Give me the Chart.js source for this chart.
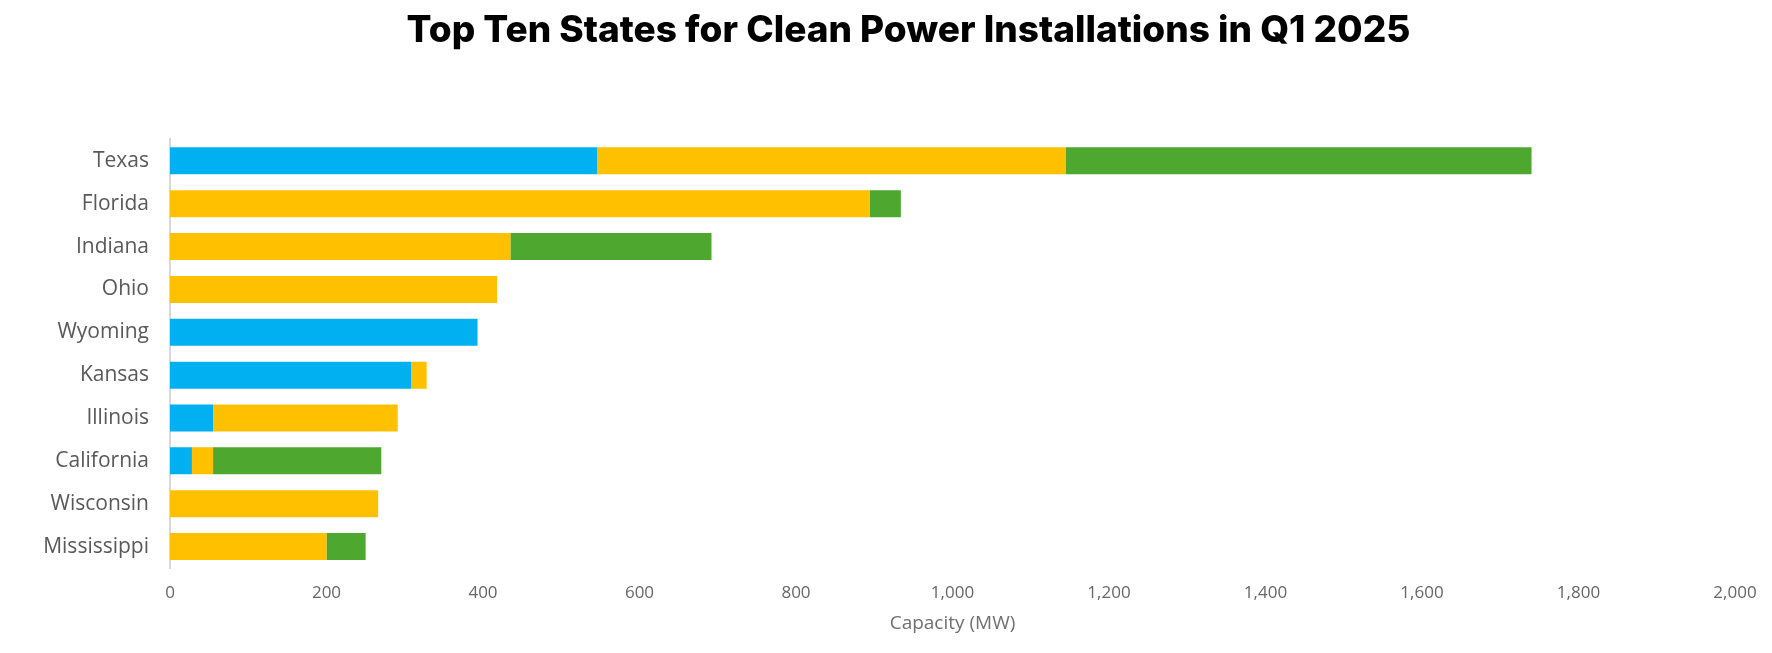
<!DOCTYPE html>
<html>
<head>
<meta charset="utf-8">
<script src="https://cdn.jsdelivr.net/npm/chart.js@4"></script>
<style>
  html, body { margin: 0; padding: 0; background: #fff; }
  #wrap { width: 1772px; height: 653px; }
</style>
</head>
<body>
<div id="wrap"><canvas id="mycanvas"></canvas></div>
<script>
// values, in MW
var states = ["Texas", "Florida", "Indiana", "Ohio", "Wyoming", "Kansas", "Illinois", "California", "Wisconsin", "Mississippi"];
var wind    = [546, 0, 0, 0, 393, 308, 55, 28, 0, 0];
var solar   = [599, 894, 435, 418, 0, 20, 236, 27, 266, 200];
var storage = [595, 40, 257, 0, 0, 0, 0, 215, 0, 50];
var xTicks  = [0, 200, 400, 600, 800, 1000, 1200, 1400, 1600, 1800, 2000];

var chartdata = {
  labels: states,
  datasets: [
    { label: "Land-Based Wind", data: wind, backgroundColor: "#00B0F0" },
    { label: "Solar", data: solar, backgroundColor: "#FFC000" },
    { label: "Storage", data: storage, backgroundColor: "#4EA72E" }
  ]
};

// title in the original sits a bit right of the page centre
var shiftTitle = {
  id: 'shiftTitle',
  afterLayout: function(chart) {
    if (chart.titleBlock) chart.titleBlock.left += 82;
  }
};

var ctx = document.getElementById("mycanvas");

var barGraph = new Chart(ctx, {
  type: 'bar',
  data: chartdata,
  plugins: [shiftTitle],
  options: {
    indexAxis: 'y',
    responsive: true,
    maintainAspectRatio: false,
    animation: false,
    datasets: {
      bar: { categoryPercentage: 1.0, barPercentage: 0.63, borderWidth: 0 }
    },
    layout: { padding: { left: 0, right: 37, top: 0, bottom: 18 } },
    plugins: {
      legend: { display: false },
      tooltip: { enabled: false },
      title: {
        display: true,
        text: "Top Ten States for Clean Power Installations in Q1 2025",
        color: "#000",
        font: { family: "Inter", size: 37, weight: "800" },
        padding: { top: 9, bottom: 86 }
      }
    },
    scales: {
      x: {
        stacked: true,
        min: 0,
        max: 2000,
        afterBuildTicks: function(scale) {
          scale.ticks = xTicks.map(function(v){ return { value: v }; });
        },
        afterFit: function(scale) { scale.height = 67; },
        grid: { display: false, drawTicks: false },
        border: { display: false },
        ticks: {
          color: "#666666",
          padding: 15,
          font: { family: "Open Sans", size: 17 },
          callback: function(v) { return v.toLocaleString("en-US"); }
        },
        title: {
          display: true,
          text: "Capacity (MW)",
          color: "#707070",
          font: { family: "Open Sans", size: 19 },
          padding: { top: 0, bottom: 0 }
        }
      },
      y: {
        stacked: true,
        afterFit: function(scale) { scale.width = 170; },
        grid: { display: false, drawTicks: false },
        border: { display: true, color: "#d9d9d9", width: 2 },
        ticks: {
          color: "#595959",
          padding: 21,
          font: { family: "Open Sans", size: 21 }
        }
      }
    }
  }
});
</script>
</body>
</html>
